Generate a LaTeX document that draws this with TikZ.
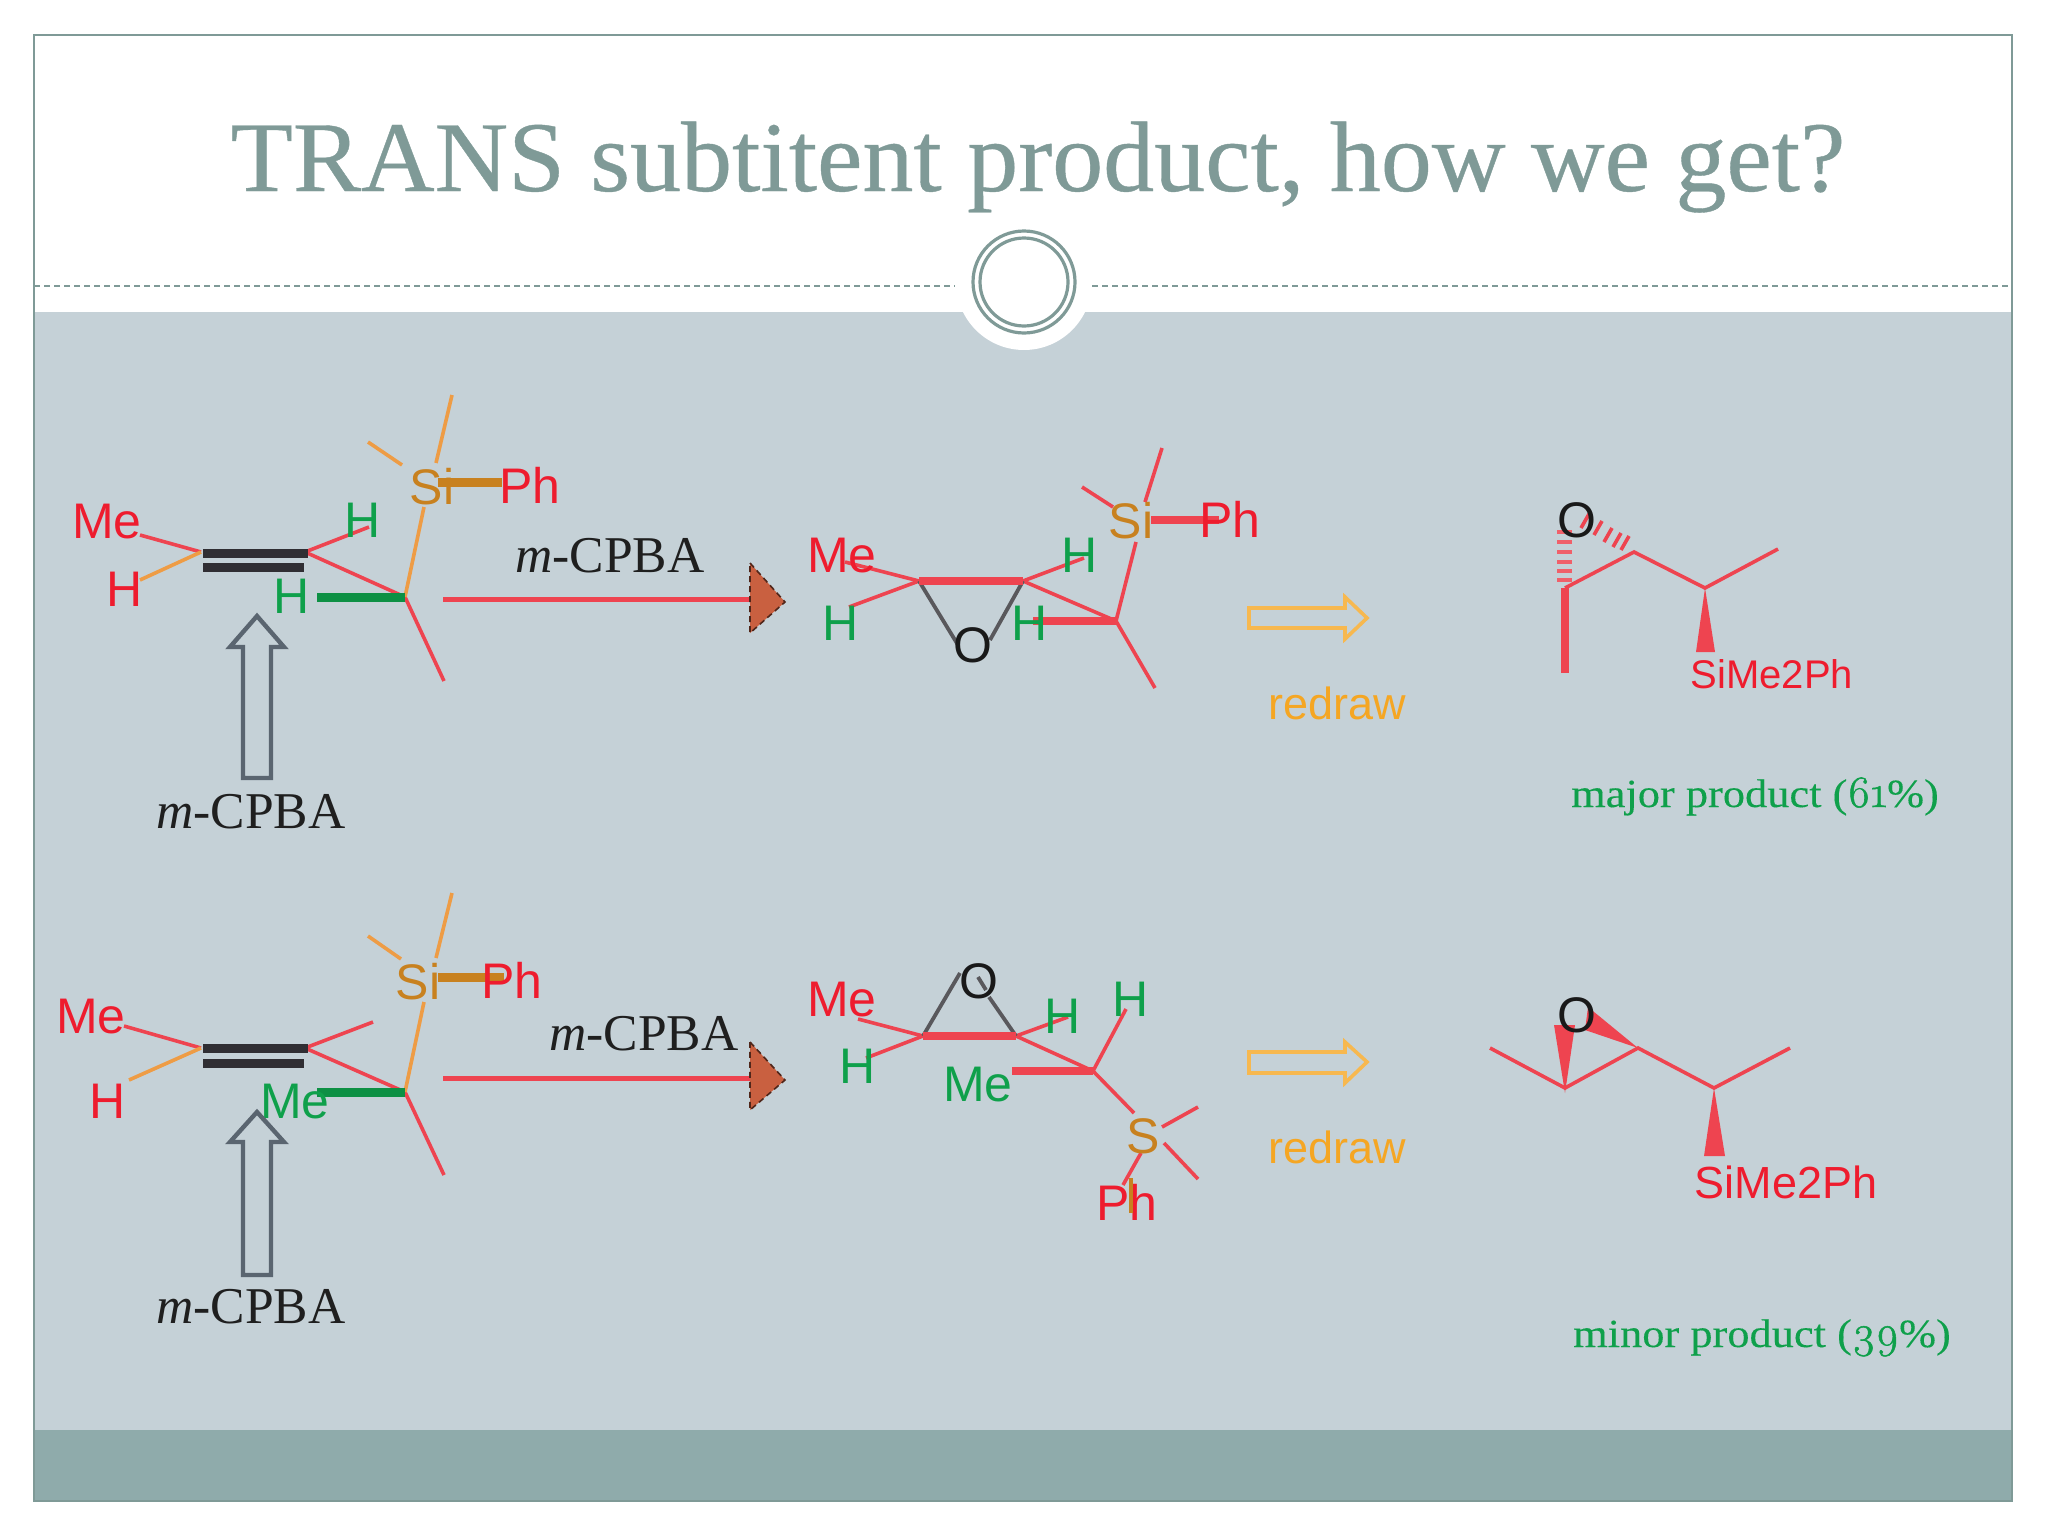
\documentclass[tikz,border=0pt]{standalone}
\usepackage{fontspec}
\setmainfont{Liberation Serif}
\setsansfont{Liberation Sans}
\newfontfamily\titlefont[FakeStretch=1.02,FakeBold=0.4]{Liberation Serif}
\newfontfamily\capfont[FakeStretch=1.11,FakeBold=0.2]{Liberation Serif}
\newfontfamily\oldfigs[Numbers=OldStyle,FakeBold=1.2,Scale=1.12]{Latin Modern Roman}
\usepackage{tikz}
\definecolor{panel}{HTML}{C5D1D7}
\definecolor{band}{HTML}{8FABAB}
\definecolor{teal}{HTML}{7F9A97}
\definecolor{redtxt}{HTML}{EE1C2E}
\definecolor{redbond}{HTML}{EE4450}
\definecolor{greentxt}{HTML}{0FA04B}
\definecolor{goldtxt}{HTML}{C8811F}
\definecolor{orangebond}{HTML}{EE9C45}
\definecolor{orangetxt}{HTML}{F5A623}
\definecolor{darkbond}{HTML}{302E33}
\definecolor{grayarrow}{HTML}{5A6570}
\definecolor{headfill}{HTML}{C96040}
\newcommand{\mcpba}{\textit{m}-CPBA}
\tikzset{
  atom/.style={inner sep=0pt,anchor=base,font=\fontsize{25}{25}\selectfont\sffamily},
  redatom/.style={atom,text=redtxt},
  greenatom/.style={atom,text=greentxt},
  goldatom/.style={atom,text=goldtxt},
  blackatom/.style={atom,text=black!90},
  reagent/.style={inner sep=0pt,anchor=base,text=black!88,font=\fontsize{25.8}{25.8}\selectfont},
  redrawlabel/.style={inner sep=0pt,anchor=base,text=orangetxt,font=\fontsize{22.5}{22.5}\selectfont\sffamily},
  yieldlabel/.style={inner sep=0pt,anchor=base,text=greentxt,font=\fontsize{20}{20}\selectfont\capfont},
  bond/.style={draw=redbond,line width=1.8pt},
  goldbond/.style={draw=orangebond,line width=1.8pt},
  ringbond/.style={draw=darkbond!80,line width=1.9pt},
  dblbond/.style={draw=darkbond,line width=4.5pt},
  boldred/.style={draw=redbond,line width=4pt},
  boldgreen/.style={draw=greentxt!90!black,line width=4.5pt},
  boldgold/.style={draw=goldtxt,line width=4.5pt},
  wedge/.style={fill=redbond,draw=none},
  rxn/.style={draw=redbond,line width=2.5pt},
  rxnhead/.style={fill=headfill,draw=black!60!headfill,line width=0.8pt,densely dashed},
  hollowup/.style={draw=grayarrow,line width=2.2pt,line join=miter,fill=panel},
  hollowright/.style={draw=orangetxt!80!white,line width=1.8pt,fill=panel},
}
\begin{document}
\begin{tikzpicture}[x=0.5pt,y=-0.5pt]
\useasboundingbox (0,0) rectangle (2048,1536);
% slide
\fill[white] (34,35) rectangle (2012,1501);
\fill[panel] (34,312) rectangle (2012,1430);
\fill[band] (34,1430) rectangle (2012,1501);
\fill[white] (1024,282) circle[radius=68];
\fill[white] (930,240) rectangle (1118,312);
\draw[teal,line width=0.6pt,densely dashed] (34,286) -- (955,286);
\draw[teal,line width=0.6pt,densely dashed] (1092,286) -- (2012,286);
\draw[teal,line width=1.6pt] (1024,282) circle[radius=51];
\draw[teal,line width=1.6pt] (1024,282) circle[radius=44];
\draw[teal,line width=1pt] (34,35) rectangle (2012,1501);
\node[inner sep=0pt,anchor=base,text=teal,font=\fontsize{50}{50}\selectfont\titlefont] (title) at (1038,191) {TRANS subtitent product, how we get?};

% first row, substrate
\coordinate (al) at (201,552); \coordinate (ar) at (305,552); \coordinate (ac) at (405,597);
\coordinate (ame) at (140,535); \coordinate (ah) at (140,580); \coordinate (ahh) at (369,527);
\coordinate (agr) at (317,597); \coordinate (asi) at (424,507); \coordinate (alow) at (444,681);
\coordinate (asa) at (436,463); \coordinate (asb) at (452,395); \coordinate (asc) at (368,442); \coordinate (asd) at (402,465);
\coordinate (ase) at (438,482); \coordinate (asf) at (502,482);
\draw[bond] (ame) -- (al);
\draw[goldbond] (ah) -- (al);
\draw[bond] (ahh) -- (ar) -- (ac) -- (alow);
\draw[goldbond] (ac) -- (asi);
\draw[goldbond] (asa) -- (asb);
\draw[goldbond] (asc) -- (asd);
\draw[boldgold] (ase) -- (asf);
\draw[boldgreen] (agr) -- (ac);
\coordinate (aba) at (203,553.5); \coordinate (abb) at (308,553.5); \coordinate (abc) at (203,567.5); \coordinate (abd) at (304,567.5);
\draw[dblbond] (aba) -- (abb);
\draw[dblbond] (abc) -- (abd);
\node[redatom] (ameT) at (107,538) {Me};
\node[redatom] (ahT) at (125,606) {H};
\node[greenatom] (ahhT) at (363,537) {H};
\node[greenatom] (agrT) at (292,613) {H};
\node[goldatom] (asiT) at (432,504) {Si};
\node[redatom] (aphT) at (530,503) {Ph};
\draw[hollowup] (257,616) -- (284,647) -- (271,647) -- (271,778) -- (243,778) -- (243,647) -- (230,647) -- cycle;
\node[reagent] (agent1) at (251,828) {\mcpba};
% first row, arrow
\coordinate (ra) at (443,599); \coordinate (rb) at (752,599);
\draw[rxn] (ra) -- (rb);
\draw[rxnhead] (750,563) -- (785,602) -- (750,633) -- cycle;
\node[reagent] (agent2) at (610,572) {\mcpba};

% first row, epoxide
\coordinate (bl) at (919,581); \coordinate (br) at (1023,581); \coordinate (bc) at (1116,621);
\coordinate (bme) at (845,562); \coordinate (bh) at (849,607); \coordinate (bhh) at (1084,558);
\coordinate (bbo) at (1033,621); \coordinate (bsi) at (1136,542); \coordinate (blow) at (1155,688);
\coordinate (bsa) at (1145,502); \coordinate (bsb) at (1162,448); \coordinate (bsc) at (1082,487); \coordinate (bsd) at (1113,507);
\coordinate (bse) at (1151,520); \coordinate (bsf) at (1219,520);
\coordinate (boa) at (958,645); \coordinate (bob) at (990,640);
\draw[bond] (bme) -- (bl);
\draw[bond] (bh) -- (bl);
\draw[bond] (bhh) -- (br) -- (bc) -- (blow);
\draw[bond] (bc) -- (bsi);
\draw[bond] (bsa) -- (bsb);
\draw[bond] (bsc) -- (bsd);
\draw[boldred] (bse) -- (bsf);
\draw[boldred] (bbo) -- (bc);
\draw[ringbond] (bl) -- (boa);
\draw[ringbond] (br) -- (bob);
\draw[boldred] (bl) -- (br);
\node[redatom] (bmeT) at (842,572) {Me};
\node[greenatom] (bhT) at (841,640) {H};
\node[blackatom] (boT) at (973,662) {O};
\node[greenatom] (bbT) at (1030,640) {H};
\node[greenatom] (bhhT) at (1080,572) {H};
\node[goldatom] (bsiT) at (1131,538) {Si};
\node[redatom] (bphT) at (1230,537) {Ph};
\draw[hollowright] (1249,608) -- (1345,608) -- (1345,597) -- (1367,618) -- (1345,639) -- (1345,628) -- (1249,628) -- cycle;
\node[redrawlabel] (redraw1) at (1337,719) {redraw};

% first row, product
\coordinate (ca) at (1565,588); \coordinate (cb) at (1634,552); \coordinate (cc) at (1705,588); \coordinate (cd) at (1778,549);
\coordinate (cdown) at (1565,673);
\draw[bond] (ca) -- (cb) -- (cc) -- (cd);
\draw[boldred] (ca) -- (cdown);
\foreach \y in {532,542,552,562,571,580}
  \draw[redbond!85,line width=1.8pt] (1557,\y) -- (1572,\y);
\foreach \x/\y in {1625/543,1617/540,1608/535,1598/528,1585/521}
  \draw[redbond,line width=1.8pt] (\x,\y) ++(-4,7) -- ++(8,-14);
\fill[wedge] (cc) -- (1715,652) -- (1696,652) -- cycle;
\node[blackatom] (coT) at (1577,537) {O};
\node[redatom,font=\fontsize{20}{20}\selectfont\sffamily] (csiT) at (1772,688) {SiMe2Ph};
\node[yieldlabel] (major) at (1755,807) {major product ({\oldfigs 61}\%)};

% second row, substrate
\coordinate (dl) at (201,1048); \coordinate (dr) at (305,1048); \coordinate (dc) at (405,1092);
\coordinate (dme) at (124,1026); \coordinate (dh) at (129,1080); \coordinate (dhh) at (373,1022);
\coordinate (dgr) at (317,1092); \coordinate (dsi) at (424,1002); \coordinate (dlow) at (444,1175);
\coordinate (dsa) at (436,958); \coordinate (dsb) at (452,893); \coordinate (dsc) at (368,936); \coordinate (dsd) at (401,959);
\coordinate (dse) at (438,977); \coordinate (dsf) at (504,977);
\draw[bond] (dme) -- (dl);
\draw[goldbond] (dh) -- (dl);
\draw[bond] (dhh) -- (dr) -- (dc) -- (dlow);
\draw[goldbond] (dc) -- (dsi);
\draw[goldbond] (dsa) -- (dsb);
\draw[goldbond] (dsc) -- (dsd);
\draw[boldgold] (dse) -- (dsf);
\draw[boldgreen] (dgr) -- (dc);
\coordinate (dba) at (203,1048.5); \coordinate (dbb) at (308,1048.5); \coordinate (dbc) at (203,1063); \coordinate (dbd) at (304,1063);
\draw[dblbond] (dba) -- (dbb);
\draw[dblbond] (dbc) -- (dbd);
\node[redatom] (dmeT) at (91,1033) {Me};
\node[redatom] (dhT) at (108,1118) {H};
\node[greenatom] (dgrT) at (295,1118) {Me};
\node[goldatom] (dsiT) at (418,999) {Si};
\node[redatom] (dphT) at (512,998) {Ph};
\draw[hollowup] (257,1112) -- (284,1142) -- (271,1142) -- (271,1275) -- (243,1275) -- (243,1142) -- (230,1142) -- cycle;
\node[reagent] (agent3) at (251,1323) {\mcpba};
% second row, arrow
\coordinate (sa) at (443,1078); \coordinate (sb) at (752,1078);
\draw[rxn] (sa) -- (sb);
\draw[rxnhead] (750,1042) -- (785,1080) -- (750,1110) -- cycle;
\node[reagent] (agent4) at (644,1050) {\mcpba};

% second row, epoxide
\coordinate (el) at (923,1036); \coordinate (er) at (1016,1036); \coordinate (ec) at (1093,1071);
\coordinate (eme) at (858,1019); \coordinate (eh) at (866,1058); \coordinate (ehh) at (1068,1017);
\coordinate (ebo) at (1012,1071); \coordinate (eup) at (1126,1009); \coordinate (es) at (1134,1113);
\coordinate (esa) at (1162,1127); \coordinate (esb) at (1198,1107); \coordinate (esc) at (1164,1143); \coordinate (esd) at (1198,1179);
\coordinate (ese) at (1141,1153); \coordinate (esf) at (1123,1185); \coordinate (esg) at (1131,1178); \coordinate (esh) at (1131,1213);
\coordinate (eoa) at (960,973); \coordinate (eob) at (989,997); \coordinate (eoc) at (978,977); \coordinate (eod) at (986,990);
\draw[bond] (eme) -- (el);
\draw[bond] (eh) -- (el);
\draw[bond] (ehh) -- (er) -- (ec) -- (es);
\draw[bond] (ec) -- (eup);
\draw[bond] (esa) -- (esb);
\draw[bond] (esc) -- (esd);
\draw[bond] (ese) -- (esf);
\draw[boldred] (ebo) -- (ec);
\draw[ringbond] (el) -- (eoa);
\draw[ringbond] (er) -- (eob);
\draw[ringbond] (eoc) -- (eod);
\draw[boldred] (el) -- (er);
\node[redatom] (emeT) at (842,1016) {Me};
\node[blackatom] (eoT) at (979,998) {O};
\node[greenatom] (ehT) at (858,1083) {H};
\node[greenatom] (ehhT) at (1063,1033) {H};
\node[greenatom] (ebT) at (978,1101) {Me};
\node[greenatom] (eupT) at (1131,1016) {H};
\node[goldatom] (esT) at (1143,1153) {S};
\node[redatom] (ephT) at (1127,1220) {Ph};
\draw[goldtxt,line width=1.8pt] (esg) -- (esh);
\draw[hollowright] (1249,1052) -- (1345,1052) -- (1345,1042) -- (1367,1062) -- (1345,1083) -- (1345,1073) -- (1249,1073) -- cycle;
\node[redrawlabel] (redraw2) at (1337,1163) {redraw};

% second row, product
\coordinate (fe) at (1490,1048); \coordinate (fa) at (1565,1088); \coordinate (fb) at (1638,1048); \coordinate (fc) at (1714,1088); \coordinate (fd) at (1790,1048);
\draw[bond] (fe) -- (fa) -- (fb) -- (fc) -- (fd);
\fill[wedge] (1565,1093) -- (1575,1025) -- (1554,1025) -- cycle;
\fill[wedge] (fb) -- (1585,1030) -- (1588,1007) -- cycle;
\fill[wedge] (fc) -- (1725,1156) -- (1704,1156) -- cycle;
\node[blackatom] (foT) at (1577,1032) {O};
\node[redatom,font=\fontsize{22.5}{22.5}\selectfont\sffamily] (fsiT) at (1786,1198) {SiMe2Ph};
\node[yieldlabel] (minor) at (1762,1347) {minor product ({\oldfigs 39}\%)};
\end{tikzpicture}
\end{document}
